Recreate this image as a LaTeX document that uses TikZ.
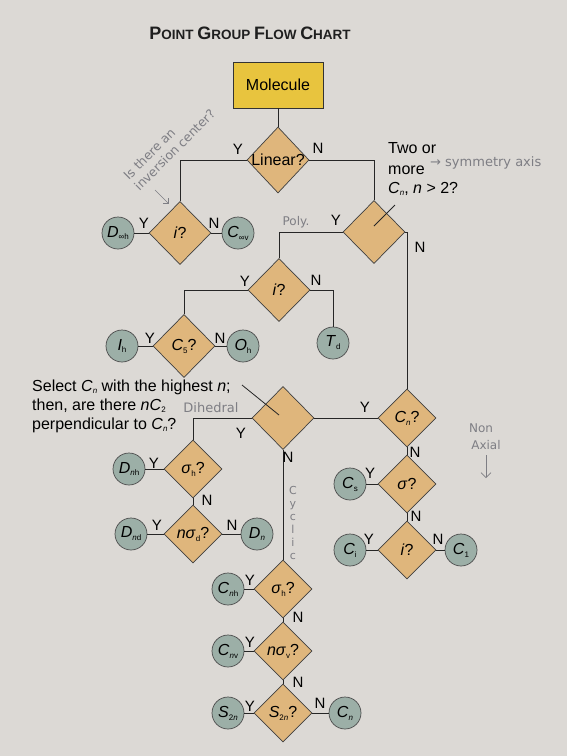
\documentclass[tikz,border=0pt]{standalone}
\usepackage{fontspec}
\setmainfont{Liberation Sans}
\newfontfamily\hand{DejaVu Sans}
\usetikzlibrary{shapes.geometric,calc,arrows.meta}
\definecolor{bg}{HTML}{DCD9D5}
\definecolor{tanc}{HTML}{DFB67C}
\definecolor{pgc}{HTML}{9CAFA7}
\definecolor{molc}{HTML}{E8C43E}
\definecolor{handc}{HTML}{7E7E84}
\newcommand{\sbs}[1]{\raisebox{-0.35ex}{\fontsize{8}{8}\selectfont #1}}
\newcommand{\fs}[1]{\fontsize{#1}{#1}\selectfont}
\newcommand{\zw}[1]{\makebox[0pt]{#1}}
\begin{document}
\begin{tikzpicture}[x=1pt,y=-1pt,
  conn/.style={draw=black!85, line width=0.8pt},
  dia/.style={diamond, draw=black!75, line width=0.7pt, fill=tanc, minimum width=58pt, minimum height=58pt, inner sep=0pt, font=\fs{16}},
  bigdia/.style={dia, minimum width=62pt, minimum height=63pt},
  pg/.style={circle, draw=black!70, line width=0.7pt, fill=pgc, minimum size=32pt, inner sep=0pt, font=\fs{16}},
  yn/.style={font=\fs{15}, inner sep=0pt},
  hw/.style={font=\hand\fs{12}, text=handc, inner sep=0pt},
  body/.style={font=\fs{16}, inner sep=0pt, anchor=base west}
]
\fill[bg] (0,0) rectangle (567,756);
\useasboundingbox (0,0) rectangle (567,756);

% title
\node[font=\bfseries, text=black!88, inner sep=0pt] (title) at (250,33)
  {\fs{18}P\fs{13.5}OINT \fs{18}G\fs{13.5}ROUP \fs{18}F\fs{13.5}LOW \fs{18}C\fs{13.5}HART};

% molecule
\node[draw=black!80, line width=0.8pt, fill=molc, minimum width=90pt, minimum height=46pt, inner sep=0pt, font=\fs{16}] (mol) at (278,85) {Molecule};

% diamonds
\node[bigdia, minimum height=66pt] (lin) at (278,160) {\zw{Linear?}};
\node[bigdia] (invL) at (180,233) {\zw{\textit{i}?}};
\node[bigdia] (axes) at (374,232) {};
\node[bigdia] (inv2) at (279,290) {\zw{\textit{i}?}};
\node[bigdia] (c5) at (184,346) {\zw{\textit{C}\sbs{5}?}};
\node[bigdia] (dih) at (283,418) {};
\node[dia] (cn) at (407,418) {\zw{\textit{C}\sbs{\textit{n}}?}};
\node[dia] (sig) at (407,484) {\zw{\textit{σ}?}};
\node[dia] (inv3) at (407,550) {\zw{\textit{i}?}};
\node[dia] (sh1) at (193,469) {\zw{\textit{σ}\sbs{h}?}};
\node[dia] (nsd) at (193,534) {\zw{\textit{nσ}\sbs{d}?}};
\node[dia] (sh2) at (283,589) {\zw{\textit{σ}\sbs{h}?}};
\node[dia] (nsv) at (283,651) {\zw{\textit{nσ}\sbs{v}?}};
\node[dia] (s2n) at (283,713) {\zw{\textit{S}\sbs{2\textit{n}}?}};

% point groups
\node[pg] (Dinfh) at (118,233) {\zw{\textit{D}\sbs{∞h}}};
\node[pg] (Cinfv) at (238,233) {\zw{\textit{C}\sbs{∞v}}};
\node[pg] (Ih) at (122,346) {\zw{\textit{I}\sbs{h}}};
\node[pg] (Oh) at (243,346) {\zw{\textit{O}\sbs{h}}};
\node[pg] (Td) at (333,343) {\zw{\textit{T}\sbs{d}}};
\node[pg] (Dnh) at (129,469) {\zw{\textit{D}\sbs{\textit{n}h}}};
\node[pg] (Dnd) at (131,534) {\zw{\textit{D}\sbs{\textit{n}d}}};
\node[pg] (Dn) at (257,534) {\zw{\textit{D}\sbs{\textit{n}}}};
\node[pg] (Cs) at (350,484) {\zw{\textit{C}\sbs{s}}};
\node[pg] (Ci) at (350,550) {\zw{\textit{C}\sbs{i}}};
\node[pg] (C1) at (461,550) {\zw{\textit{C}\sbs{1}}};
\node[pg] (Cnh) at (228,589) {\zw{\textit{C}\sbs{\textit{n}h}}};
\node[pg] (Cnv) at (228,651) {\zw{\textit{C}\sbs{\textit{n}v}}};
\node[pg] (S2nc) at (228,713) {\zw{\textit{S}\sbs{2\textit{n}}}};
\node[pg] (Cn) at (345,713) {\zw{\textit{C}\sbs{\textit{n}}}};

% connectors
\draw[conn] (mol.south) -- (lin.north);
\draw[conn] (lin.west) -| (invL.north);
\draw[conn] (lin.east) -| (axes.north);
\draw[conn] (Dinfh) -- (invL.west);
\draw[conn] (invL.east) -- (Cinfv);
\draw[conn] (axes.west) -| (inv2.north);
\draw[conn] (axes.east) -| (cn.north);
\draw[conn] (inv2.west) -| (c5.north);
\draw[conn] (inv2.east) -| (Td.north);
\draw[conn] (Ih) -- (c5.west);
\draw[conn] (c5.east) -- (Oh);
\draw[conn] (dih.west) -| (sh1.north);
\draw[conn] (dih.east) -- (cn.west);
\draw[conn] (dih.south) -- (sh2.north);
\draw[conn] (Dnh) -- (sh1.west);
\draw[conn] (sh1.south) -- (nsd.north);
\draw[conn] (Dnd) -- (nsd.west);
\draw[conn] (nsd.east) -- (Dn);
\draw[conn] (cn.south) -- (sig.north);
\draw[conn] (Cs) -- (sig.west);
\draw[conn] (sig.south) -- (inv3.north);
\draw[conn] (Ci) -- (inv3.west);
\draw[conn] (inv3.east) -- (C1);
\draw[conn] (Cnh) -- (sh2.west);
\draw[conn] (sh2.south) -- (nsv.north);
\draw[conn] (Cnv) -- (nsv.west);
\draw[conn] (nsv.south) -- (s2n.north);
\draw[conn] (S2nc) -- (s2n.west);
\draw[conn] (s2n.east) -- (Cn);

% question texts and pointers
\node[body] (q1) at (388,153) {Two or};
\node[body] (q2) at (388,174) {more};
\node[body] (q3) at (388,193) {\textit{C}\sbs{\textit{n}}, \textit{n} > 2?};
\coordinate (pa1) at (395,205);
\coordinate (pa2) at (374,226);
\draw[conn] (pa1) -- (pa2);

\node[body] (s1) at (32,391) {Select \textit{C}\sbs{\textit{n}} with the highest \textit{n};};
\node[body] (s2) at (32,410) {then, are there \textit{nC}\sbs{2}};
\node[body] (s3) at (32,429) {perpendicular to \textit{C}\sbs{\textit{n}}?};
\coordinate (pb1) at (242,385);
\coordinate (pb2) at (279,415);
\draw[conn] (pb1) -- (pb2);

% Y / N labels
\node[yn] (y1) at (238,149) {Y};
\node[yn] (n1) at (318,148) {N};
\node[yn] (y2) at (144,223) {Y};
\node[yn] (n2) at (214,223) {N};
\node[yn] (y3) at (336,220) {Y};
\node[yn] (n3) at (420,247) {N};
\node[yn] (y4) at (245,281) {Y};
\node[yn] (n4) at (316,280) {N};
\node[yn] (y5) at (150,338) {Y};
\node[yn] (n5) at (220,338) {N};
\node[yn] (y6) at (241,433) {Y};
\node[yn] (y7) at (365,407) {Y};
\node[yn] (n6) at (288,457) {N};
\node[yn] (n7) at (415,452) {N};
\node[yn] (y8) at (370,473) {Y};
\node[yn] (n8) at (416,516) {N};
\node[yn] (y9) at (369,539) {Y};
\node[yn] (n9) at (438,539) {N};
\node[yn] (y10) at (154,463) {Y};
\node[yn] (n10) at (207,500) {N};
\node[yn] (y11) at (157,525) {Y};
\node[yn] (n11) at (232,525) {N};
\node[yn] (y12) at (250,580) {Y};
\node[yn] (n12) at (298,617) {N};
\node[yn] (y13) at (250,642) {Y};
\node[yn] (n13) at (298,682) {N};
\node[yn] (y14) at (250,706) {Y};
\node[yn] (n14) at (320,703) {N};

% handwritten notes
\node[hw, rotate=45, anchor=north west, align=left, font=\hand\fontsize{12.5}{15}\selectfont] (h1) at (122,174) {Is there an\\inversion center?};
\coordinate (ha1) at (155,190);
\coordinate (ha2) at (169,204);
\draw[handc, line width=0.6pt, -{Straight Barb[length=4pt]}] (ha1) -- (ha2);
\node[hw, anchor=west, font=\hand\fs{13}] (h3) at (430,163) {→ symmetry axis};
\node[hw] (h4) at (296,222) {Poly.};
\node[hw, font=\hand\fs{13}] (h5) at (211,408) {Dihedral};
\node[hw, align=center, font=\hand\fontsize{11}{13}\selectfont] (h6) at (293,523) {C\\y\\c\\l\\i\\c};
\node[hw] (h7) at (481,428) {Non};
\node[hw] (h8) at (486,445) {Axial};
\coordinate (hn1) at (486,455);
\coordinate (hn2) at (486,478);
\draw[handc, line width=0.6pt, -{Straight Barb[length=5pt]}] (hn1) -- (hn2);
\end{tikzpicture}
\end{document}
